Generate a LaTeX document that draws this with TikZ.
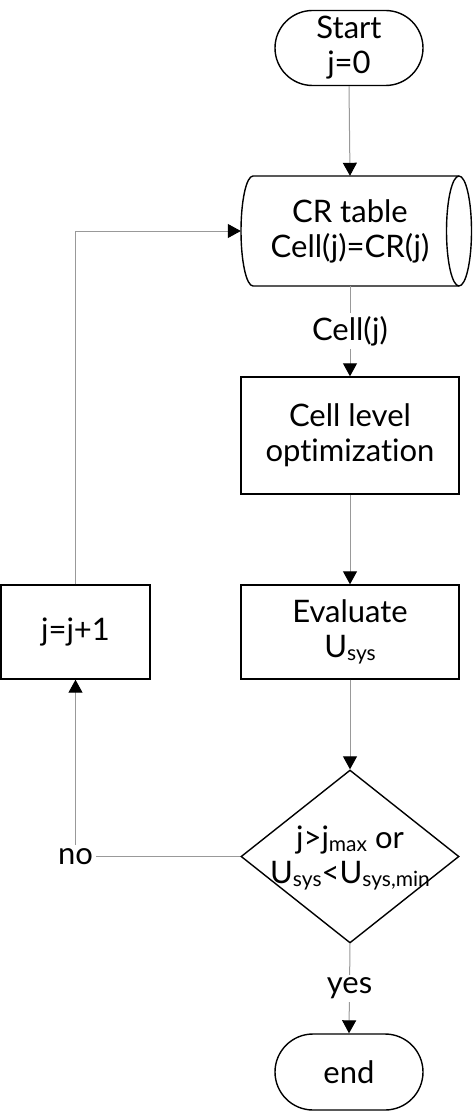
\documentclass[tikz,border=0pt]{standalone}
\usepackage{fontspec}
\setmainfont{Lato}[Ligatures={NoCommon}]
\usetikzlibrary{shapes.geometric,shapes.misc,arrows.meta}
\newcommand{\subs}[1]{\raisebox{-3pt}{\fontsize{21}{21}\selectfont #1}}
\begin{document}
\begin{tikzpicture}[x=1pt,y=-1pt,
  every node/.style={font=\fontsize{31}{35}\selectfont, align=center},
  term/.style={rounded rectangle, draw=black, line width=1.4pt, minimum width=148pt, minimum height=75pt, inner sep=0pt},
  proc/.style={rectangle, draw=black, line width=1.4pt, minimum width=218pt, inner sep=0pt},
  decision/.style={diamond, draw=black, line width=1.4pt, minimum width=218pt, minimum height=173pt, inner sep=0pt},
  conn/.style={draw=black!40, line width=1pt, -{Triangle[length=13pt,width=14pt,color=black]}},
  lbl/.style={fill=white, inner sep=3pt}
]
\useasboundingbox (0,0) rectangle (474,1113);
\fill[white] (0,0) rectangle (474,1113);

\node[term] (start) at (349,48) {Start\\j=0};

% CR table cylinder
\node[minimum width=218pt, minimum height=110pt, inner sep=0pt] (cr) at (350,231) {CR table\\Cell(j)=CR(j)};
\draw[black, line width=1.4pt]
  (253,176) -- (459,176)
  arc[start angle=90, end angle=-90, x radius=12.5pt, y radius=55pt]
  -- (253,286)
  arc[start angle=270, end angle=90, x radius=12pt, y radius=55pt] -- cycle;
\draw[black, line width=1.4pt] (459,176)
  arc[start angle=90, end angle=270, x radius=12.5pt, y radius=55pt];

\node[proc, minimum height=117pt] (opt) at (350,435.5) {Cell level\\optimization};
\node[proc, minimum height=94pt] (eval) at (350,632) {Evaluate\\U\subs{sys}};
\node[proc, minimum width=149pt, minimum height=94pt] (jj) at (75.5,632) {j=j+1};
\node[decision] (dec) at (350,856.5) {};
\node (dectext) at (350,858) {j>j\subs{max} or\\U\subs{sys}<U\subs{sys,min}};
\node[term, minimum height=76pt] (end) at (349,1072) {end};

\draw[conn] (start.south) -- (cr.north);
\draw[conn] (cr.south) -- node[lbl] {Cell(j)} (opt.north);
\draw[conn] (opt.south) -- (eval.north);
\draw[conn] (eval.south) -- (dec.north);
\draw[conn] (dec.south) -- node[lbl] {yes} (end.north);
\draw[conn] (dec.west) -- (jj.south |- dec.west) node[lbl] {no} -- (jj.south);
\draw[conn] (jj.north) -- (jj.north |- cr.west) -- (cr.west);
\end{tikzpicture}
\end{document}
